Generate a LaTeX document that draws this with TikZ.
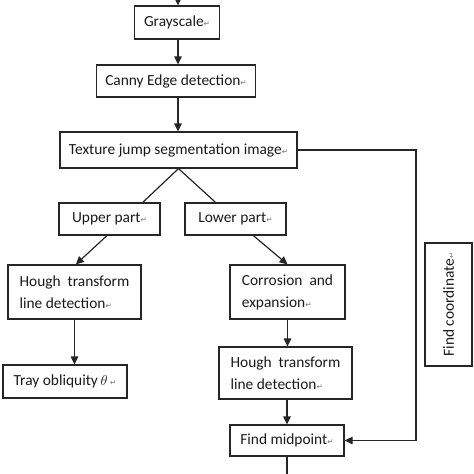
\documentclass[tikz,border=0pt]{standalone}
\usepackage{fontspec}
\setmainfont{Carlito}
\newfontfamily\djfont{DejaVu Sans}
\usetikzlibrary{arrows.meta,calc}
\newcommand\pmk{{\djfont\fontsize{7.5}{7.5}\selectfont\color{black!55}↵}}
\begin{document}
\begin{tikzpicture}[x=1pt,y=-1pt,
  box/.style={draw=black!85,line width=1.2pt,inner sep=0pt,font=\fontsize{15.4}{22}\selectfont,text=black!90},
  two/.style={align=left},
  arr/.style={draw=black!85,line width=1.2pt,-{Triangle[length=8pt,width=7.5pt]}},
  ln/.style={draw=black!85,line width=1.2pt}]
\useasboundingbox (0,0) rectangle (474,474);
\node[box,minimum width=85pt,minimum height=33pt] (gray) at (177,22.5) {Grayscale\pmk};
\node[box,minimum width=159pt,minimum height=32pt] (canny) at (176,81) {Canny Edge detection\pmk};
\node[box,minimum width=237pt,minimum height=36pt] (tex) at (178.5,150) {Texture jump segmentation image\pmk};
\node[box,minimum width=101pt,minimum height=32pt] (upper) at (109.5,219) {Upper part\pmk};
\node[box,minimum width=101pt,minimum height=32pt] (lower) at (235.5,219) {Lower part\pmk};
\node[box,minimum width=133pt,minimum height=54pt,two] (h1) at (74.5,292) {Hough\ \ transform\\line detection\pmk};
\node[box,minimum width=115pt,minimum height=54pt,two] (corr) at (287.5,292) {Corrosion\ \ and\\expansion\pmk};
\node[box,minimum width=123pt,minimum height=47pt,rotate=90] (coord) at (448.5,304.5) {Find coordinate\pmk};
\node[box,minimum width=124pt,minimum height=33pt] (tray) at (65,381.5) {Tray obliquity\,$\theta$\,\pmk};
\node[box,minimum width=133pt,minimum height=52pt,two] (h2) at (285.5,373) {Hough\ \ transform\\line detection\pmk};
\node[box,minimum width=114pt,minimum height=31pt] (mid) at (287,440.5) {Find midpoint\pmk};
\coordinate (top) at (178,0);
\coordinate (bot) at (287,474);
\coordinate (corner) at (416,300);
\draw[arr] (top) -- (top |- gray.north);
\draw[arr] (gray.south -| top) -- (canny.north -| top);
\draw[arr] (canny.south -| top) -- (tex.north -| top);
\draw[ln] (tex.south) -- ($(upper.north)!0.65!(upper.north east)$);
\draw[ln] (tex.south) -- ($(lower.north)!0.39!(lower.north west)$);
\draw[arr] ($(upper.south)!0.05!(upper.south west)$) -- ($(h1.north)!0.02!(h1.north east)$);
\draw[arr] ($(lower.south)!0.35!(lower.south east)$) -- ($(corr.north)!0!(corr.north west)$);
\draw[arr] (h1.south) -- (tray.north -| h1.south);
\draw[arr] (corr.south) -- (h2.north -| corr.south);
\draw[arr] (h2.south -| mid.north) -- (mid.north);
\draw[arr] (tex.east) -| (corner) |- (mid.east);
\draw[ln] (mid.south) -- (bot);
\end{tikzpicture}
\end{document}
